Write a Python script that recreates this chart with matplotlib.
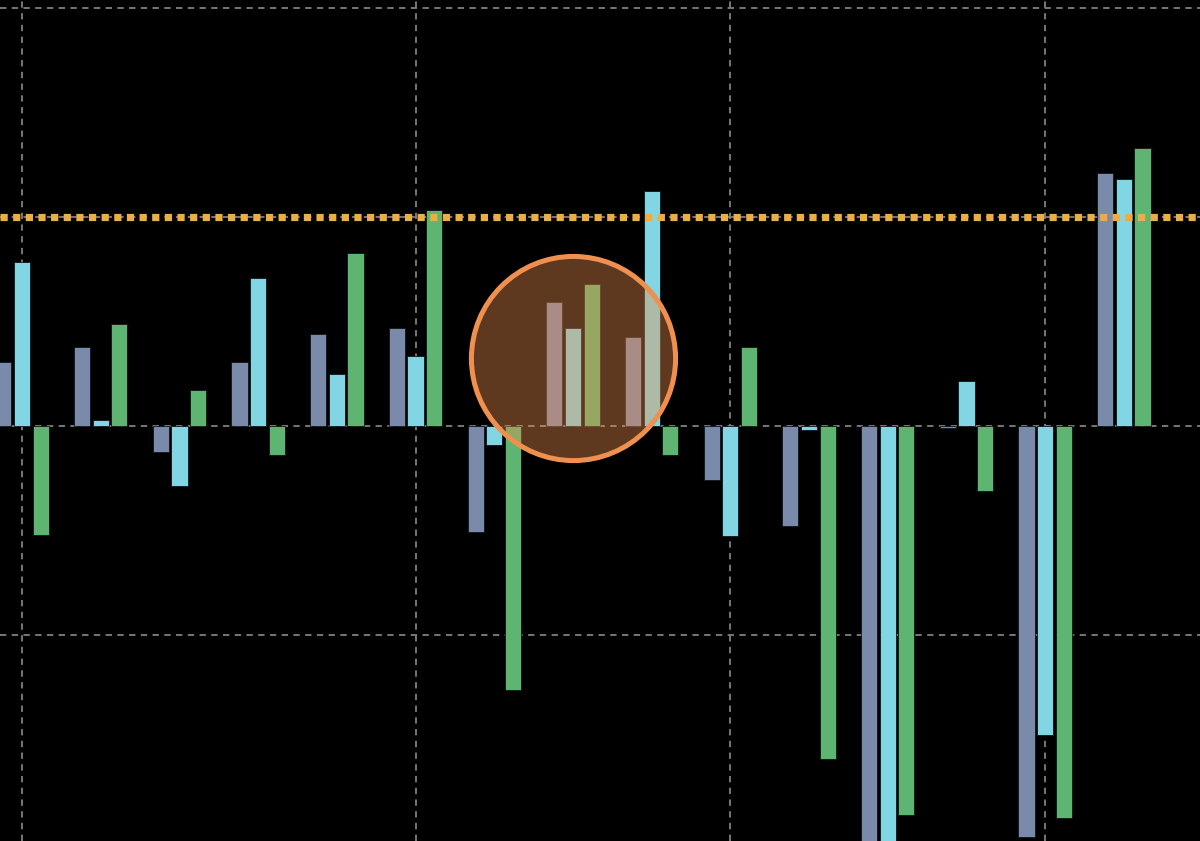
import matplotlib
matplotlib.use("Agg")
import matplotlib.pyplot as plt
import numpy as np

# ---- data ----
categories = ["P1", "P2", "P3", "P4", "P5", "P6", "P7", "P8",
              "P9", "P10", "P11", "P12", "P13", "P14", "P15"]
series_a = [0.61, 0.75, -0.25, 0.61, 0.88, 0.93, -1.02, 1.18,
            0.85, -0.52, -0.96, -4.30, -0.02, -3.94, 2.42]
series_b = [1.56, 0.05, -0.58, 1.41, 0.49, 0.67, -0.19, 0.93,
            2.24, -1.06, -0.04, -4.30, 0.43, -2.96, 2.36]
series_c = [-1.05, 0.97, 0.34, -0.28, 1.65, 2.06, -2.53, 1.35,
            -0.28, 0.75, -3.19, -3.73, -0.63, -3.76, 2.66]
target_level = 2.0
grid_x_groups = [0, 5, 9, 13]
grid_y_values = [-4, -2, 0, 2, 4]
highlight_group = 7
highlight_level = 0.65

# ---- style ----
c_a = "#7A8AAA"
c_b = "#82D6E4"
c_c = "#5DB571"
c_target = "#E9AD4A"
c_circle = "#F0904F"
grid_c = "#808080"

fig = plt.figure(figsize=(12, 8.41), dpi=100, facecolor="black")
ax = fig.add_axes([0, 0, 1, 1])
ax.set_facecolor("black")

x = np.arange(len(categories))
w = 0.205
off = 0.237
for vals, col, o in [(series_a, c_a, -off), (series_b, c_b, 0.0), (series_c, c_c, off)]:
    ax.bar(x + o, vals, width=w, color=col, edgecolor="#101418", linewidth=0.6, zorder=3)

# grid
for gx in grid_x_groups:
    ax.axvline(gx, color=grid_c, lw=1.3, ls=(0, (3.5, 3)), zorder=1)
for gy in grid_y_values:
    ax.axhline(gy, color=grid_c, lw=1.3, ls=(0, (3.5, 3)), zorder=1)

# target line
ax.axhline(target_level, color=c_target, lw=5.2, ls=(0, (1, 0.75)), zorder=4)

# highlight circle
face = matplotlib.colors.to_rgba(c_circle, 0.4)
ax.plot([highlight_group], [highlight_level], marker="o", markersize=147,
        markerfacecolor=face, markeredgecolor=c_circle, markeredgewidth=3.6,
        linestyle="none", zorder=5)

left = -0.28
ax.set_xlim(left, left + 1200 / 78.7)
ax.set_ylim(-3.976, 4.072)
ax.set_xticks([])
ax.set_yticks([])
for s in ax.spines.values():
    s.set_visible(False)

fig.savefig("out.png", dpi=100, facecolor="black")
